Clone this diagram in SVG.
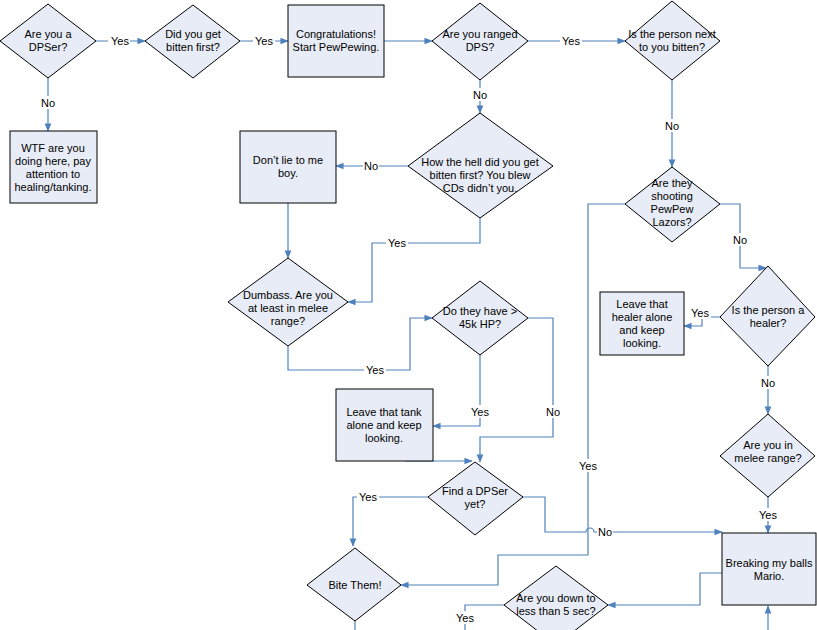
<svg xmlns="http://www.w3.org/2000/svg" width="817" height="630" viewBox="0 0 817 630">
<defs>
<marker id="a" viewBox="0 0 10 10" refX="9" refY="5" markerWidth="7" markerHeight="7" orient="auto"><path d="M0,1 L10,5 L0,9 z" fill="#4f81bd"/></marker>
<style>
.n{fill:#e8ecf6;stroke:#000;stroke-width:1}
.c{fill:none;stroke:#4f81bd;stroke-width:1.2;marker-end:url(#a)}
.l{fill:none;stroke:#4f81bd;stroke-width:1.2}
text{font-family:"Liberation Sans",Arial,sans-serif;font-size:11px;fill:#000;text-anchor:middle}
.lb{fill:#fff;stroke:none}
</style>
</defs>
<rect width="817" height="630" fill="#fff"/>
<g id="connectors">
<path class="c" d="M96,41H145"/>
<path class="c" d="M240,41H288"/>
<path class="c" d="M384,41H432"/>
<path class="c" d="M528,41H625"/>
<path class="c" d="M48,78V131"/>
<path class="c" d="M480,80V113"/>
<path class="c" d="M672,80V167"/>
<path class="c" d="M408,166H336"/>
<path class="c" d="M288,203V258"/>
<path class="c" d="M480,218V243H372V302H348"/>
<path class="c" d="M288,346V370H410V318H432"/>
<path class="c" d="M480,355V426H433"/>
<path class="c" d="M528,318H553V437H480V462"/>
<path class="c" d="M405,461H472"/>
<path class="c" d="M431,497H353V546"/>
<path class="c" d="M522,497H545V532H586A4,4 0 0 1 594,532H722"/>
<path class="c" d="M625,204H588V555H498V585H401"/>
<path class="c" d="M720,204H740V268H766"/>
<path class="c" d="M722,317H702V326H684"/>
<path class="c" d="M768,366V414"/>
<path class="c" d="M768,497V533"/>
<path class="c" d="M722,573H700V605H608"/>
<path class="l" d="M504,605H465V630"/>
<path class="l" d="M355,617V630"/>
<path class="c" d="M768,630V606"/>
<g>
<rect class="lb" x="108" y="34" width="22" height="13"/><text x="120" y="45">Yes</text>
<rect class="lb" x="253" y="34" width="22" height="13"/><text x="264" y="45">Yes</text>
<rect class="lb" x="560" y="34" width="22" height="13"/><text x="571" y="45">Yes</text>
<rect class="lb" x="40" y="96" width="16" height="13"/><text x="48" y="107">No</text>
<rect class="lb" x="472" y="88" width="16" height="13"/><text x="480" y="99">No</text>
<rect class="lb" x="664" y="119" width="16" height="13"/><text x="672" y="130">No</text>
<rect class="lb" x="363" y="159" width="16" height="13"/><text x="371" y="170">No</text>
<rect class="lb" x="386" y="236" width="22" height="13"/><text x="397" y="247">Yes</text>
<rect class="lb" x="364" y="363" width="22" height="13"/><text x="375" y="374">Yes</text>
<rect class="lb" x="469" y="405" width="22" height="13"/><text x="480" y="416">Yes</text>
<rect class="lb" x="545" y="405" width="16" height="13"/><text x="553" y="416">No</text>
<rect class="lb" x="357" y="490" width="22" height="13"/><text x="368" y="501">Yes</text>
<rect class="lb" x="597" y="525" width="16" height="13"/><text x="605" y="536">No</text>
<rect class="lb" x="577" y="459" width="22" height="13"/><text x="588" y="470">Yes</text>
<rect class="lb" x="732" y="233" width="16" height="13"/><text x="740" y="244">No</text>
<rect class="lb" x="689" y="306" width="22" height="13"/><text x="700" y="317">Yes</text>
<rect class="lb" x="760" y="376" width="16" height="13"/><text x="768" y="387">No</text>
<rect class="lb" x="757" y="508" width="22" height="13"/><text x="768" y="519">Yes</text>
<rect class="lb" x="454" y="611" width="22" height="13"/><text x="465" y="622">Yes</text>
</g>
</g>
<g id="n1"><path class="n" d="M0,41L48,4L96,41L48,78Z"/><text x="48" y="38">Are you a</text><text x="48" y="51">DPSer?</text></g>
<g id="n2"><path class="n" d="M145,41L193,5L240,41L193,78Z"/><text x="193" y="38">Did you get</text><text x="193" y="51">bitten first?</text></g>
<g id="n3"><rect class="n" x="288" y="5" width="96" height="72"/><text x="336" y="38">Congratulations!</text><text x="336" y="51">Start PewPewing.</text></g>
<g id="n4"><path class="n" d="M432,41L480,3L528,41L480,80Z"/><text x="480" y="38">Are you ranged</text><text x="480" y="51">DPS?</text></g>
<g id="n5"><path class="n" d="M625,41L672,1L720,41L672,80Z"/><text x="672" y="38">Is the person next</text><text x="672" y="51">to you bitten?</text></g>
<g id="n6"><rect class="n" x="10" y="131" width="87" height="72"/><text x="53" y="152">WTF are you</text><text x="53" y="165">doing here, pay</text><text x="53" y="178">attention to</text><text x="53" y="191">healing/tanking.</text></g>
<g id="n7"><rect class="n" x="240" y="131" width="96" height="72"/><text x="288" y="164">Don’t lie to me</text><text x="288" y="177">boy.</text></g>
<g id="n8"><path class="n" d="M408,166L480,113L553,166L480,218Z"/><text x="480" y="166">How the hell did you get</text><text x="480" y="179">bitten first?  You blew</text><text x="480" y="192">CDs didn’t you.</text></g>
<g id="n9"><path class="n" d="M625,204L672,167L720,204L672,242Z"/><text x="672" y="187">Are they</text><text x="672" y="200">shooting</text><text x="672" y="213">PewPew</text><text x="672" y="226">Lazors?</text></g>
<g id="n10"><path class="n" d="M228,302L288,258L348,302L288,346Z"/><text x="288" y="299">Dumbass.  Are you</text><text x="288" y="312">at least in melee</text><text x="288" y="325">range?</text></g>
<g id="n11"><path class="n" d="M432,318L480,281L528,318L480,355Z"/><text x="480" y="315">Do they have &gt;</text><text x="480" y="328">45k HP?</text></g>
<g id="n12"><path class="n" d="M720,317L768,266L815,317L768,366Z"/><text x="768" y="314">Is the person a</text><text x="768" y="327">healer?</text></g>
<g id="n13"><rect class="n" x="600" y="292" width="84" height="63"/><text x="642" y="308">Leave that</text><text x="642" y="321">healer alone</text><text x="642" y="334">and keep</text><text x="642" y="347">looking.</text></g>
<g id="n14"><rect class="n" x="336" y="389" width="97" height="72"/><text x="384" y="416">Leave that tank</text><text x="384" y="429">alone and keep</text><text x="384" y="442">looking.</text></g>
<g id="n15"><path class="n" d="M720,456L768,414L815,456L768,497Z"/><text x="768" y="449">Are you in</text><text x="768" y="462">melee range?</text></g>
<g id="n16"><path class="n" d="M428,497L475,462L523,497L475,535Z"/><text x="475" y="495">Find a DPSer</text><text x="475" y="508">yet?</text></g>
<g id="n17"><rect class="n" x="722" y="533" width="94" height="72"/><text x="769" y="567">Breaking my balls</text><text x="769" y="580">Mario.</text></g>
<g id="n18"><path class="n" d="M307,585L355,548L401,585L355,621Z"/><text x="355" y="589">Bite Them!</text></g>
<g id="n19"><path class="n" d="M504,605L556,566L608,605L556,645Z"/><text x="556" y="602">Are you down to</text><text x="556" y="615">less than 5 sec?</text></g>
</svg>
